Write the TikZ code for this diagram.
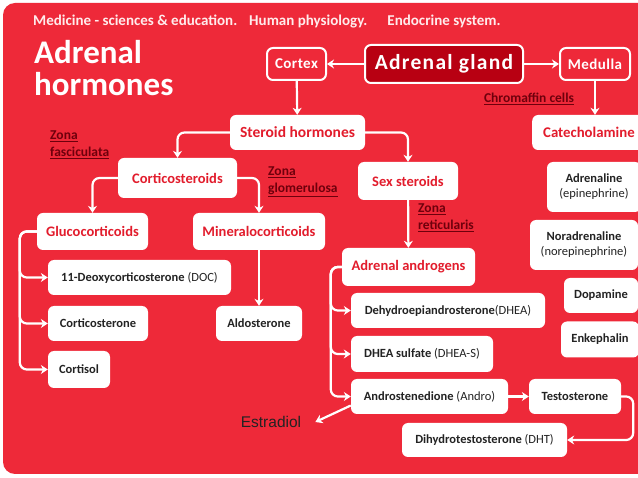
\documentclass[tikz,border=0pt]{standalone}
\usepackage{fontspec}
\setmainfont{Carlito}
\newfontfamily\arialfont{Liberation Sans}
\usetikzlibrary{arrows.meta,positioning}
\definecolor{bgred}{RGB}{238,41,57}
\definecolor{glandred}{RGB}{184,0,18}
\definecolor{boxred}{RGB}{226,28,44}
\definecolor{zonared}{RGB}{110,0,12}
\definecolor{inkgray}{RGB}{35,35,35}
\definecolor{titlepink}{RGB}{255,236,236}

\begin{document}
\begin{tikzpicture}[x=1pt, y=-1pt, >={Stealth[length=7pt,width=9pt]},
    wbox/.style={rectangle, fill=white, rounded corners=6pt, align=center, inner sep=2pt,
      font=\bfseries\fontsize{14.5}{16}\selectfont, text=boxred},
    kbox/.style={wbox, text=inkgray, font=\bfseries\fontsize{12.5}{15}\selectfont},
    rbox/.style={wbox, fill=bgred, draw=white, line width=2pt, text=white,
      font=\bfseries\fontsize{15}{17}\selectfont\addfontfeature{LetterSpace=3}},
    arr/.style={->, draw=white, line width=2.2pt, rounded corners=7pt},
    zona/.style={align=left, text=zonared, anchor=north west, inner sep=0pt,
      font=\bfseries\fontsize{13.5}{17}\selectfont}]

    % page and background
    \useasboundingbox (0,0) rectangle (638,478);
    \fill[white] (0,0) rectangle (638,478);
    \fill[bgred, rounded corners=12pt] (3,3) rectangle (665,474);

    % titles
    \node[anchor=west, inner sep=0pt, text=titlepink, font=\bfseries\fontsize{15}{17}\selectfont] (subtitle) at (33,22)
      {Medicine - sciences \& education.\hspace{12pt}Human physiology.\hspace{20pt}Endocrine system.};
    \node[anchor=north west, inner sep=0pt, align=left, text=white, font=\bfseries\fontsize{33}{32.5}\selectfont] (title) at (34,40)
      {Adrenal\\hormones};

    % top row
    \node[wbox, fill=glandred, draw=white, line width=2pt, text=white, minimum width=158pt, minimum height=38pt,
      font=\bfseries\fontsize{21.5}{24}\selectfont\addfontfeature{LetterSpace=6}] (gland) at (444,64) {Adrenal gland};
    \node[rbox, minimum width=59pt, minimum height=32pt] (cortex) at (296.5,64) {Cortex};
    \node[rbox, minimum width=70pt, minimum height=32pt] (medulla) at (595,64) {Medulla};

    % cortex side
    \node[wbox, font=\bfseries\fontsize{15.5}{17}\selectfont, minimum width=135pt, minimum height=35pt] (steroid) at (297.5,132.5) {Steroid hormones};
    \node[wbox, minimum width=119pt, minimum height=40pt] (cortico) at (177.5,178) {Corticosteroids};
    \node[wbox, minimum width=100pt, minimum height=38pt] (sex) at (408,181) {Sex steroids};
    \node[wbox, minimum width=111pt, minimum height=37pt] (gluco) at (92.5,231.5) {Glucocorticoids};
    \node[wbox, minimum width=132pt, minimum height=37pt] (mineral) at (259,231.5) {Mineralocorticoids};
    \node[wbox, minimum width=133pt, minimum height=38pt] (androgen) at (408.5,267) {Adrenal androgens};

    \node[kbox, minimum width=183pt, minimum height=35pt] (doc) at (139.5,277.5) {11-Deoxycorticosterone \mdseries(DOC)};
    \node[kbox, minimum width=100pt, minimum height=35pt] (corticost) at (98,323.5) {Corticosterone};
    \node[kbox, minimum width=62pt, minimum height=37pt] (cortisol) at (79,369.5) {Cortisol};
    \node[kbox, minimum width=86pt, minimum height=35pt] (aldo) at (259,323.5) {Aldosterone};

    \node[kbox, minimum width=194pt, minimum height=35pt] (dhea) at (448,310.5) {Dehydroepiandrosterone\mdseries(DHEA)};
    \node[kbox, minimum width=142pt, minimum height=36pt] (dheas) at (422,354) {DHEA sulfate \mdseries(DHEA-S)};
    \node[kbox, minimum width=157pt, minimum height=35pt] (andro) at (429.5,396.5) {Androstenedione \mdseries(Andro)};
    \node[kbox, minimum width=92pt, minimum height=35pt] (testo) at (575,396.5) {Testosterone};
    \node[kbox, minimum width=165pt, minimum height=34pt] (dht) at (484.5,440) {Dihydrotestosterone \mdseries(DHT)};
    \node[inner sep=0pt, text=inkgray, font=\arialfont\fontsize{15.5}{17}\selectfont] (estradiol) at (271,422) {Estradiol};

    % medulla side
    \node[wbox, anchor=west, inner xsep=11pt, minimum height=35pt, font=\bfseries\fontsize{14.8}{17}\selectfont] (catechol) at (532,132.5) {Catecholamine};
    \node[kbox, minimum width=94pt, minimum height=50pt] (adrenaline) at (594,187) {Adrenaline\\\mdseries(epinephrine)};
    \node[kbox, minimum width=108pt, minimum height=50pt] (noradren) at (584,245) {Noradrenaline\\\mdseries(norepinephrine)};
    \node[kbox, minimum width=74pt, minimum height=35pt] (dopamine) at (601,295.5) {Dopamine};
    \node[kbox, minimum width=78pt, minimum height=36pt] (enkeph) at (600,339.5) {Enkephalin};

    % zone labels
    \node[anchor=center, inner sep=0pt, text=zonared, font=\bfseries\fontsize{13.5}{15}\selectfont] (chromaffin) at (529,99) {\underline{Chromaffin cells}};
    \node[zona] (zfasc) at (50,131) {\underline{Zona}\\\underline{fasciculata}};
    \node[zona] (zglom) at (268,167) {\underline{Zona}\\\underline{glomerulosa}};
    \node[zona] (zret) at (418,204) {\underline{Zona}\\\underline{reticularis}};

    % connectors
    \draw[arr] (gland) -- (cortex);
    \draw[arr] (gland) -- (medulla);
    \draw[arr] (cortex) -- (steroid);
    \draw[arr] (medulla.south) -- (medulla.south |- catechol.north);
    \draw[arr] (steroid.west) -| (cortico.north);
    \draw[arr] (steroid.east) -| (sex.north);
    \draw[arr] (cortico.west) -| (gluco.north);
    \draw[arr] (cortico.east) -| (mineral.north);
    \draw[arr] (mineral) -- (aldo);
    \draw[arr] (sex) -- (androgen);
    \draw[arr] (gluco.west) -- ++(-17,0) |- (doc.west);
    \draw[arr] (gluco.west) -- ++(-17,0) |- (corticost.west);
    \draw[arr] (gluco.west) -- ++(-17,0) |- (cortisol.west);
    \draw[arr] (androgen.west) -- ++(-11,0) |- (dhea.west);
    \draw[arr] (androgen.west) -- ++(-11,0) |- (dheas.west);
    \draw[arr] (androgen.west) -- ++(-11,0) |- (andro.west);
    \draw[arr] (andro) -- (testo);
    \draw[arr] (testo.east) -- ++(12,0) |- (dht.east);
    \draw[arr] ([yshift=-9pt]andro.west) -- ([xshift=14pt]estradiol.east);
\end{tikzpicture}
\end{document}
